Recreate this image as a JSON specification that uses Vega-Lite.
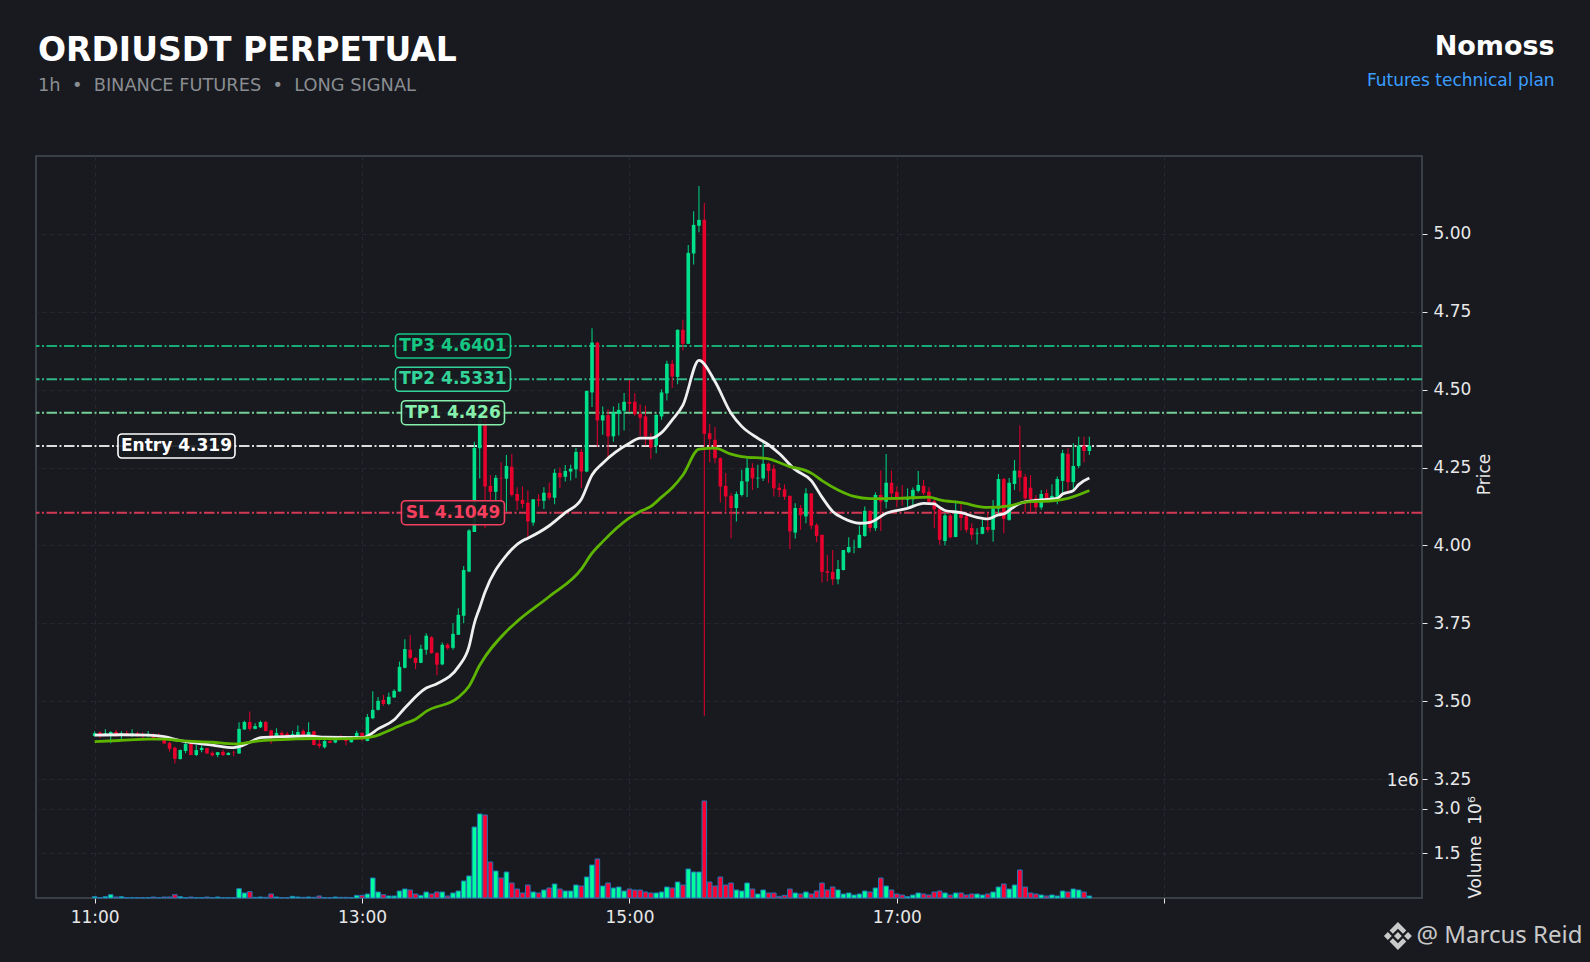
{
"$schema":"https://vega.github.io/schema/vega-lite/v6.json",
"width":1386,"height":742,
"autosize":{"type":"none"},
"padding":{"left":36,"top":156,"right":168,"bottom":64},
"background":"#181a20",
"view":{"stroke":"#3a3f45","strokeWidth":2},
"config":{"font":"DejaVu Sans"},
"title":{"text":"ORDIUSDT PERPETUAL","subtitle":"1h\u00a0\u00a0•\u00a0\u00a0BINANCE FUTURES\u00a0\u00a0•\u00a0\u00a0LONG SIGNAL","anchor":"start","frame":"group","dx":2,"offset":-62,"fontSize":33,"fontWeight":"bold","color":"#ffffff","subtitleFontSize":17.8,"subtitleColor":"#8a8d91","subtitlePadding":9},
"datasets":{
"candles":[
{"i":0,"open":3.388,"high":3.403,"low":3.386,"close":3.397,"volume":45000},
{"i":1,"open":3.399,"high":3.403,"low":3.381,"close":3.394,"volume":11000},
{"i":2,"open":3.394,"high":3.41,"low":3.391,"close":3.397,"volume":45000},
{"i":3,"open":3.394,"high":3.403,"low":3.365,"close":3.401,"volume":112000},
{"i":4,"open":3.401,"high":3.407,"low":3.386,"close":3.394,"volume":34000},
{"i":5,"open":3.393,"high":3.403,"low":3.378,"close":3.397,"volume":45000},
{"i":6,"open":3.397,"high":3.405,"low":3.388,"close":3.394,"volume":11000},
{"i":7,"open":3.395,"high":3.41,"low":3.386,"close":3.397,"volume":11000},
{"i":8,"open":3.397,"high":3.402,"low":3.386,"close":3.394,"volume":11000},
{"i":9,"open":3.394,"high":3.399,"low":3.38,"close":3.388,"volume":11000},
{"i":10,"open":3.389,"high":3.404,"low":3.384,"close":3.394,"volume":11000},
{"i":11,"open":3.391,"high":3.397,"low":3.378,"close":3.381,"volume":34000},
{"i":12,"open":3.391,"high":3.397,"low":3.375,"close":3.384,"volume":11000},
{"i":13,"open":3.375,"high":3.384,"low":3.363,"close":3.364,"volume":34000},
{"i":14,"open":3.366,"high":3.37,"low":3.338,"close":3.347,"volume":34000},
{"i":15,"open":3.35,"high":3.354,"low":3.3,"close":3.315,"volume":112000},
{"i":16,"open":3.314,"high":3.345,"low":3.313,"close":3.343,"volume":45000},
{"i":17,"open":3.34,"high":3.367,"low":3.333,"close":3.363,"volume":11000},
{"i":18,"open":3.363,"high":3.367,"low":3.326,"close":3.327,"volume":34000},
{"i":19,"open":3.327,"high":3.359,"low":3.324,"close":3.343,"volume":11000},
{"i":20,"open":3.343,"high":3.358,"low":3.336,"close":3.35,"volume":11000},
{"i":21,"open":3.349,"high":3.35,"low":3.33,"close":3.332,"volume":34000},
{"i":22,"open":3.334,"high":3.339,"low":3.322,"close":3.326,"volume":11000},
{"i":23,"open":3.327,"high":3.337,"low":3.32,"close":3.336,"volume":34000},
{"i":24,"open":3.337,"high":3.344,"low":3.324,"close":3.327,"volume":11000},
{"i":25,"open":3.327,"high":3.336,"low":3.326,"close":3.334,"volume":11000},
{"i":26,"open":3.335,"high":3.341,"low":3.323,"close":3.334,"volume":11000},
{"i":27,"open":3.332,"high":3.432,"low":3.33,"close":3.411,"volume":315000},
{"i":28,"open":3.409,"high":3.437,"low":3.408,"close":3.433,"volume":169000},
{"i":29,"open":3.433,"high":3.467,"low":3.405,"close":3.411,"volume":213000},
{"i":30,"open":3.411,"high":3.429,"low":3.41,"close":3.42,"volume":22000},
{"i":31,"open":3.416,"high":3.437,"low":3.414,"close":3.433,"volume":34000},
{"i":32,"open":3.433,"high":3.437,"low":3.403,"close":3.404,"volume":22000},
{"i":33,"open":3.406,"high":3.408,"low":3.363,"close":3.386,"volume":135000},
{"i":34,"open":3.386,"high":3.413,"low":3.384,"close":3.398,"volume":34000},
{"i":35,"open":3.398,"high":3.405,"low":3.388,"close":3.391,"volume":11000},
{"i":36,"open":3.395,"high":3.401,"low":3.388,"close":3.389,"volume":11000},
{"i":37,"open":3.386,"high":3.405,"low":3.384,"close":3.394,"volume":56000},
{"i":38,"open":3.386,"high":3.422,"low":3.384,"close":3.401,"volume":34000},
{"i":39,"open":3.404,"high":3.41,"low":3.386,"close":3.39,"volume":22000},
{"i":40,"open":3.39,"high":3.432,"low":3.386,"close":3.401,"volume":34000},
{"i":41,"open":3.403,"high":3.405,"low":3.358,"close":3.359,"volume":22000},
{"i":42,"open":3.363,"high":3.375,"low":3.349,"close":3.356,"volume":67000},
{"i":43,"open":3.352,"high":3.375,"low":3.348,"close":3.372,"volume":11000},
{"i":44,"open":3.372,"high":3.381,"low":3.365,"close":3.366,"volume":11000},
{"i":45,"open":3.367,"high":3.386,"low":3.365,"close":3.379,"volume":34000},
{"i":46,"open":3.381,"high":3.391,"low":3.375,"close":3.379,"volume":22000},
{"i":47,"open":3.379,"high":3.386,"low":3.358,"close":3.372,"volume":22000},
{"i":48,"open":3.368,"high":3.388,"low":3.367,"close":3.386,"volume":11000},
{"i":49,"open":3.383,"high":3.405,"low":3.381,"close":3.398,"volume":90000},
{"i":50,"open":3.398,"high":3.399,"low":3.372,"close":3.384,"volume":90000},
{"i":51,"open":3.372,"high":3.459,"low":3.371,"close":3.449,"volume":135000},
{"i":52,"open":3.445,"high":3.532,"low":3.442,"close":3.472,"volume":674000},
{"i":53,"open":3.472,"high":3.513,"low":3.47,"close":3.501,"volume":202000},
{"i":54,"open":3.504,"high":3.52,"low":3.485,"close":3.491,"volume":112000},
{"i":55,"open":3.491,"high":3.528,"low":3.487,"close":3.514,"volume":67000},
{"i":56,"open":3.512,"high":3.538,"low":3.51,"close":3.533,"volume":67000},
{"i":57,"open":3.531,"high":3.627,"low":3.53,"close":3.61,"volume":236000},
{"i":58,"open":3.607,"high":3.699,"low":3.605,"close":3.667,"volume":303000},
{"i":59,"open":3.665,"high":3.712,"low":3.635,"close":3.639,"volume":270000},
{"i":60,"open":3.639,"high":3.641,"low":3.603,"close":3.623,"volume":135000},
{"i":61,"open":3.623,"high":3.681,"low":3.622,"close":3.668,"volume":90000},
{"i":62,"open":3.665,"high":3.718,"low":3.649,"close":3.71,"volume":202000},
{"i":63,"open":3.705,"high":3.708,"low":3.652,"close":3.654,"volume":135000},
{"i":64,"open":3.654,"high":3.658,"low":3.583,"close":3.617,"volume":202000},
{"i":65,"open":3.618,"high":3.688,"low":3.615,"close":3.681,"volume":202000},
{"i":66,"open":3.681,"high":3.686,"low":3.665,"close":3.67,"volume":67000},
{"i":67,"open":3.671,"high":3.75,"low":3.665,"close":3.716,"volume":169000},
{"i":68,"open":3.713,"high":3.798,"low":3.712,"close":3.777,"volume":236000},
{"i":69,"open":3.774,"high":3.934,"low":3.75,"close":3.921,"volume":573000},
{"i":70,"open":3.916,"high":4.052,"low":3.914,"close":4.048,"volume":742000},
{"i":71,"open":4.043,"high":4.333,"low":4.043,"close":4.313,"volume":2393000},
{"i":72,"open":4.312,"high":4.446,"low":4.215,"close":4.424,"volume":2831000},
{"i":73,"open":4.424,"high":4.435,"low":4.055,"close":4.189,"volume":2798000},
{"i":74,"open":4.191,"high":4.226,"low":4.135,"close":4.172,"volume":1213000},
{"i":75,"open":4.172,"high":4.226,"low":4.141,"close":4.217,"volume":910000},
{"i":76,"open":4.217,"high":4.267,"low":4.135,"close":4.215,"volume":674000},
{"i":77,"open":4.214,"high":4.29,"low":4.109,"close":4.255,"volume":876000},
{"i":78,"open":4.252,"high":4.293,"low":4.157,"close":4.162,"volume":506000},
{"i":79,"open":4.165,"high":4.187,"low":4.112,"close":4.143,"volume":303000},
{"i":80,"open":4.146,"high":4.189,"low":4.119,"close":4.133,"volume":169000},
{"i":81,"open":4.137,"high":4.176,"low":4.023,"close":4.077,"volume":438000},
{"i":82,"open":4.073,"high":4.148,"low":4.063,"close":4.148,"volume":202000},
{"i":83,"open":4.148,"high":4.165,"low":4.125,"close":4.144,"volume":169000},
{"i":84,"open":4.143,"high":4.187,"low":4.117,"close":4.169,"volume":270000},
{"i":85,"open":4.169,"high":4.202,"low":4.146,"close":4.153,"volume":337000},
{"i":86,"open":4.153,"high":4.245,"low":4.132,"close":4.233,"volume":472000},
{"i":87,"open":4.233,"high":4.25,"low":4.184,"close":4.218,"volume":303000},
{"i":88,"open":4.22,"high":4.258,"low":4.205,"close":4.239,"volume":236000},
{"i":89,"open":4.237,"high":4.259,"low":4.208,"close":4.246,"volume":236000},
{"i":90,"open":4.244,"high":4.313,"low":4.216,"close":4.3,"volume":438000},
{"i":91,"open":4.3,"high":4.309,"low":4.184,"close":4.237,"volume":404000},
{"i":92,"open":4.237,"high":4.496,"low":4.235,"close":4.496,"volume":708000},
{"i":93,"open":4.491,"high":4.697,"low":4.444,"close":4.651,"volume":1112000},
{"i":94,"open":4.651,"high":4.654,"low":4.317,"close":4.401,"volume":1315000},
{"i":95,"open":4.401,"high":4.446,"low":4.355,"close":4.418,"volume":404000},
{"i":96,"open":4.418,"high":4.437,"low":4.277,"close":4.35,"volume":506000},
{"i":97,"open":4.35,"high":4.446,"low":4.333,"close":4.427,"volume":337000},
{"i":98,"open":4.422,"high":4.456,"low":4.353,"close":4.435,"volume":371000},
{"i":99,"open":4.432,"high":4.489,"low":4.369,"close":4.461,"volume":236000},
{"i":100,"open":4.461,"high":4.531,"low":4.428,"close":4.455,"volume":303000},
{"i":101,"open":4.461,"high":4.489,"low":4.416,"close":4.421,"volume":270000},
{"i":102,"open":4.422,"high":4.453,"low":4.352,"close":4.41,"volume":270000},
{"i":103,"open":4.414,"high":4.449,"low":4.321,"close":4.35,"volume":202000},
{"i":104,"open":4.344,"high":4.36,"low":4.277,"close":4.314,"volume":169000},
{"i":105,"open":4.32,"high":4.421,"low":4.296,"close":4.419,"volume":169000},
{"i":106,"open":4.414,"high":4.501,"low":4.403,"close":4.491,"volume":202000},
{"i":107,"open":4.488,"high":4.593,"low":4.465,"close":4.583,"volume":371000},
{"i":108,"open":4.583,"high":4.596,"low":4.505,"close":4.542,"volume":337000},
{"i":109,"open":4.541,"high":4.694,"low":4.517,"close":4.692,"volume":539000},
{"i":110,"open":4.692,"high":4.724,"low":4.626,"close":4.647,"volume":438000},
{"i":111,"open":4.647,"high":4.964,"low":4.647,"close":4.939,"volume":978000},
{"i":112,"open":4.937,"high":5.073,"low":4.902,"close":5.029,"volume":876000},
{"i":113,"open":5.026,"high":5.154,"low":5.005,"close":5.045,"volume":876000},
{"i":114,"open":5.045,"high":5.099,"low":3.453,"close":4.358,"volume":3270000},
{"i":115,"open":4.36,"high":4.389,"low":4.266,"close":4.341,"volume":539000},
{"i":116,"open":4.339,"high":4.38,"low":4.264,"close":4.28,"volume":404000},
{"i":117,"open":4.28,"high":4.283,"low":4.138,"close":4.189,"volume":708000},
{"i":118,"open":4.191,"high":4.232,"low":4.109,"close":4.157,"volume":438000},
{"i":119,"open":4.159,"high":4.168,"low":4.023,"close":4.12,"volume":506000},
{"i":120,"open":4.12,"high":4.173,"low":4.077,"close":4.165,"volume":270000},
{"i":121,"open":4.162,"high":4.243,"low":4.157,"close":4.206,"volume":236000},
{"i":122,"open":4.205,"high":4.28,"low":4.155,"close":4.249,"volume":506000},
{"i":123,"open":4.249,"high":4.264,"low":4.178,"close":4.215,"volume":303000},
{"i":124,"open":4.215,"high":4.259,"low":4.184,"close":4.217,"volume":135000},
{"i":125,"open":4.215,"high":4.33,"low":4.207,"close":4.262,"volume":270000},
{"i":126,"open":4.262,"high":4.266,"low":4.2,"close":4.239,"volume":169000},
{"i":127,"open":4.246,"high":4.259,"low":4.157,"close":4.183,"volume":169000},
{"i":128,"open":4.185,"high":4.2,"low":4.155,"close":4.178,"volume":56000},
{"i":129,"open":4.18,"high":4.196,"low":4.146,"close":4.156,"volume":90000},
{"i":130,"open":4.159,"high":4.159,"low":3.988,"close":4.045,"volume":303000},
{"i":131,"open":4.041,"high":4.135,"low":4.022,"close":4.12,"volume":169000},
{"i":132,"open":4.12,"high":4.13,"low":4.05,"close":4.097,"volume":135000},
{"i":133,"open":4.093,"high":4.183,"low":4.071,"close":4.167,"volume":202000},
{"i":134,"open":4.167,"high":4.167,"low":4.052,"close":4.063,"volume":135000},
{"i":135,"open":4.065,"high":4.071,"low":4.01,"close":4.03,"volume":236000},
{"i":136,"open":4.034,"high":4.034,"low":3.881,"close":3.915,"volume":506000},
{"i":137,"open":3.917,"high":3.969,"low":3.884,"close":3.912,"volume":270000},
{"i":138,"open":3.915,"high":3.985,"low":3.873,"close":3.891,"volume":371000},
{"i":139,"open":3.891,"high":3.953,"low":3.875,"close":3.924,"volume":270000},
{"i":140,"open":3.921,"high":3.985,"low":3.919,"close":3.985,"volume":135000},
{"i":141,"open":3.978,"high":4.026,"low":3.975,"close":3.995,"volume":169000},
{"i":142,"open":3.994,"high":4.018,"low":3.975,"close":3.995,"volume":101000},
{"i":143,"open":3.992,"high":4.063,"low":3.991,"close":4.034,"volume":135000},
{"i":144,"open":4.03,"high":4.125,"low":4.028,"close":4.111,"volume":236000},
{"i":145,"open":4.111,"high":4.111,"low":4.044,"close":4.056,"volume":202000},
{"i":146,"open":4.055,"high":4.17,"low":4.046,"close":4.162,"volume":337000},
{"i":147,"open":4.162,"high":4.24,"low":4.046,"close":4.141,"volume":674000},
{"i":148,"open":4.14,"high":4.293,"low":4.118,"close":4.201,"volume":404000},
{"i":149,"open":4.201,"high":4.24,"low":4.146,"close":4.167,"volume":270000},
{"i":150,"open":4.172,"high":4.189,"low":4.122,"close":4.146,"volume":135000},
{"i":151,"open":4.155,"high":4.193,"low":4.127,"close":4.148,"volume":101000},
{"i":152,"open":4.146,"high":4.183,"low":4.122,"close":4.155,"volume":45000},
{"i":153,"open":4.148,"high":4.186,"low":4.13,"close":4.178,"volume":101000},
{"i":154,"open":4.175,"high":4.239,"low":4.17,"close":4.194,"volume":169000},
{"i":155,"open":4.191,"high":4.21,"low":4.162,"close":4.168,"volume":135000},
{"i":156,"open":4.172,"high":4.187,"low":4.135,"close":4.14,"volume":101000},
{"i":157,"open":4.142,"high":4.146,"low":4.055,"close":4.116,"volume":202000},
{"i":158,"open":4.116,"high":4.118,"low":4.002,"close":4.018,"volume":236000},
{"i":159,"open":4.014,"high":4.103,"low":4,"close":4.096,"volume":169000},
{"i":160,"open":4.096,"high":4.103,"low":4.023,"close":4.026,"volume":101000},
{"i":161,"open":4.027,"high":4.144,"low":4.026,"close":4.103,"volume":169000},
{"i":162,"open":4.103,"high":4.135,"low":4.048,"close":4.088,"volume":169000},
{"i":163,"open":4.093,"high":4.103,"low":4.041,"close":4.05,"volume":101000},
{"i":164,"open":4.056,"high":4.071,"low":4.018,"close":4.034,"volume":135000},
{"i":165,"open":4.038,"high":4.055,"low":4.003,"close":4.04,"volume":135000},
{"i":166,"open":4.037,"high":4.084,"low":4.036,"close":4.059,"volume":101000},
{"i":167,"open":4.059,"high":4.105,"low":4.042,"close":4.05,"volume":135000},
{"i":168,"open":4.05,"high":4.146,"low":4.012,"close":4.119,"volume":202000},
{"i":169,"open":4.117,"high":4.229,"low":4.103,"close":4.213,"volume":371000},
{"i":170,"open":4.213,"high":4.217,"low":4.039,"close":4.085,"volume":472000},
{"i":171,"open":4.082,"high":4.216,"low":4.079,"close":4.201,"volume":303000},
{"i":172,"open":4.197,"high":4.274,"low":4.178,"close":4.24,"volume":438000},
{"i":173,"open":4.24,"high":4.385,"low":4.173,"close":4.218,"volume":944000},
{"i":174,"open":4.22,"high":4.229,"low":4.106,"close":4.151,"volume":371000},
{"i":175,"open":4.185,"high":4.225,"low":4.109,"close":4.149,"volume":169000},
{"i":176,"open":4.151,"high":4.162,"low":4.109,"close":4.122,"volume":135000},
{"i":177,"open":4.122,"high":4.178,"low":4.114,"close":4.165,"volume":101000},
{"i":178,"open":4.168,"high":4.18,"low":4.141,"close":4.151,"volume":67000},
{"i":179,"open":4.15,"high":4.196,"low":4.141,"close":4.159,"volume":101000},
{"i":180,"open":4.15,"high":4.221,"low":4.132,"close":4.213,"volume":67000},
{"i":181,"open":4.207,"high":4.307,"low":4.167,"close":4.296,"volume":236000},
{"i":182,"open":4.294,"high":4.312,"low":4.167,"close":4.203,"volume":202000},
{"i":183,"open":4.203,"high":4.328,"low":4.178,"close":4.255,"volume":303000},
{"i":184,"open":4.255,"high":4.349,"low":4.248,"close":4.32,"volume":270000},
{"i":185,"open":4.32,"high":4.349,"low":4.266,"close":4.303,"volume":202000},
{"i":186,"open":4.303,"high":4.349,"low":4.29,"close":4.32,"volume":67000}
],
"ema":[
{"series":"fast","i":0,"value":3.391},{"series":"fast","i":5,"value":3.392},{"series":"fast","i":10,"value":3.391},{"series":"fast","i":13,"value":3.386},{"series":"fast","i":16,"value":3.373},{"series":"fast","i":22,"value":3.359},{"series":"fast","i":26,"value":3.351},{"series":"fast","i":27,"value":3.354},{"series":"fast","i":29,"value":3.368},{"series":"fast","i":31,"value":3.383},{"series":"fast","i":35,"value":3.386},{"series":"fast","i":40,"value":3.388},{"series":"fast","i":43,"value":3.384},{"series":"fast","i":50,"value":3.383},{"series":"fast","i":51,"value":3.388},{"series":"fast","i":53,"value":3.411},{"series":"fast","i":56,"value":3.44},{"series":"fast","i":58,"value":3.478},{"series":"fast","i":62,"value":3.542},{"series":"fast","i":64,"value":3.556},{"series":"fast","i":68,"value":3.61},{"series":"fast","i":70,"value":3.675},{"series":"fast","i":71,"value":3.75},{"series":"fast","i":72,"value":3.8},{"series":"fast","i":73,"value":3.85},{"series":"fast","i":77,"value":3.968},{"series":"fast","i":80,"value":4.015},{"series":"fast","i":81,"value":4.023},{"series":"fast","i":85,"value":4.063},{"series":"fast","i":88,"value":4.105},{"series":"fast","i":91,"value":4.148},{"series":"fast","i":93,"value":4.226},{"series":"fast","i":95,"value":4.264},{"series":"fast","i":100,"value":4.328},{"series":"fast","i":102,"value":4.344},{"series":"fast","i":104,"value":4.344},{"series":"fast","i":106,"value":4.362},{"series":"fast","i":108,"value":4.403},{"series":"fast","i":110,"value":4.45},{"series":"fast","i":113,"value":4.594},{"series":"fast","i":116,"value":4.526},{"series":"fast","i":119,"value":4.424},{"series":"fast","i":121,"value":4.382},{"series":"fast","i":124,"value":4.344},{"series":"fast","i":126,"value":4.323},{"series":"fast","i":128,"value":4.295},{"series":"fast","i":131,"value":4.243},{"series":"fast","i":134,"value":4.208},{"series":"fast","i":136,"value":4.155},{"series":"fast","i":138,"value":4.109},{"series":"fast","i":140,"value":4.087},{"series":"fast","i":143,"value":4.071},{"series":"fast","i":145,"value":4.074},{"series":"fast","i":148,"value":4.103},{"series":"fast","i":152,"value":4.119},{"series":"fast","i":155,"value":4.135},{"series":"fast","i":157,"value":4.133},{"series":"fast","i":158,"value":4.122},{"series":"fast","i":159,"value":4.112},{"series":"fast","i":162,"value":4.105},{"series":"fast","i":165,"value":4.09},{"series":"fast","i":167,"value":4.085},{"series":"fast","i":169,"value":4.098},{"series":"fast","i":170,"value":4.101},{"series":"fast","i":172,"value":4.125},{"series":"fast","i":173,"value":4.135},{"series":"fast","i":177,"value":4.146},{"series":"fast","i":180,"value":4.151},{"series":"fast","i":181,"value":4.165},{"series":"fast","i":183,"value":4.176},{"series":"fast","i":184,"value":4.195},{"series":"fast","i":186,"value":4.216},
{"series":"slow","i":0,"value":3.37},{"series":"slow","i":5,"value":3.374},{"series":"slow","i":10,"value":3.378},{"series":"slow","i":13,"value":3.378},{"series":"slow","i":16,"value":3.373},{"series":"slow","i":22,"value":3.368},{"series":"slow","i":26,"value":3.363},{"series":"slow","i":27,"value":3.363},{"series":"slow","i":30,"value":3.371},{"series":"slow","i":32,"value":3.374},{"series":"slow","i":37,"value":3.378},{"series":"slow","i":41,"value":3.38},{"series":"slow","i":45,"value":3.379},{"series":"slow","i":50,"value":3.381},{"series":"slow","i":52,"value":3.386},{"series":"slow","i":53,"value":3.391},{"series":"slow","i":56,"value":3.413},{"series":"slow","i":58,"value":3.428},{"series":"slow","i":60,"value":3.442},{"series":"slow","i":62,"value":3.467},{"series":"slow","i":68,"value":3.512},{"series":"slow","i":70,"value":3.548},{"series":"slow","i":72,"value":3.615},{"series":"slow","i":77,"value":3.724},{"series":"slow","i":79,"value":3.756},{"series":"slow","i":85,"value":3.836},{"series":"slow","i":91,"value":3.924},{"series":"slow","i":93,"value":3.975},{"series":"slow","i":95,"value":4.012},{"series":"slow","i":100,"value":4.088},{"series":"slow","i":102,"value":4.109},{"series":"slow","i":104,"value":4.125},{"series":"slow","i":106,"value":4.155},{"series":"slow","i":108,"value":4.185},{"series":"slow","i":110,"value":4.226},{"series":"slow","i":113,"value":4.309},{"series":"slow","i":116,"value":4.312},{"series":"slow","i":119,"value":4.293},{"series":"slow","i":121,"value":4.285},{"series":"slow","i":126,"value":4.278},{"series":"slow","i":128,"value":4.266},{"series":"slow","i":130,"value":4.253},{"series":"slow","i":133,"value":4.24},{"series":"slow","i":134,"value":4.232},{"series":"slow","i":136,"value":4.208},{"series":"slow","i":139,"value":4.178},{"series":"slow","i":142,"value":4.157},{"series":"slow","i":145,"value":4.15},{"series":"slow","i":150,"value":4.151},{"series":"slow","i":156,"value":4.155},{"series":"slow","i":158,"value":4.146},{"series":"slow","i":162,"value":4.137},{"series":"slow","i":167,"value":4.122},{"series":"slow","i":171,"value":4.127},{"series":"slow","i":174,"value":4.139},{"series":"slow","i":179,"value":4.143},{"series":"slow","i":182,"value":4.151},{"series":"slow","i":186,"value":4.176}
],
"levels":[
{"level":"TP3","price":4.6401,"label":"TP3 4.6401"},
{"level":"TP2","price":4.5331,"label":"TP2 4.5331"},
{"level":"TP1","price":4.426,"label":"TP1 4.426"},
{"level":"Entry","price":4.319,"label":"Entry 4.319"},
{"level":"SL","price":4.1049,"label":"SL 4.1049"}
]
},
"resolve":{"scale":{"y":"independent"}},
"layer":[
{"layer":[
{"data":{"name":"candles"},
 "mark":{"type":"bar","width":4.6,"stroke":"#1f77b4","strokeWidth":1},
 "encoding":{
  "x":{"field":"i","type":"quantitative","scale":{"domain":[-10.97,248.2],"nice":false,"zero":false,"padding":0},
   "axis":{"values":[0,50,100,150,200],"labelExpr":"datum.value==0?'11:00':datum.value==50?'13:00':datum.value==100?'15:00':datum.value==150?'17:00':''","title":null,"grid":true,"gridColor":"#26292f","gridDash":[4,4],"gridWidth":1,"domain":false,"tickColor":"#e8e8e8","tickSize":5,"labelColor":"#e8e8e8","labelFontSize":17,"labelPadding":6,"labelFlush":false}},
  "y":{"field":"volume","type":"quantitative","scale":{"domain":[0,25000000],"nice":false,"zero":true},
   "axis":{"orient":"right","values":[1500000,3000000],"labelExpr":"format(datum.value/1000000,'.1f')","title":"Volume\u00a0\u00a010⁶","titleAngle":-90,"titleX":53,"titleY":691,"titleAlign":"center","titleBaseline":"middle","titleFontSize":17,"titleFontWeight":"normal","titleColor":"#e8e8e8","grid":true,"gridColor":"#26292f","gridDash":[4,4],"gridWidth":1,"domain":false,"tickColor":"#e8e8e8","tickSize":5,"labelColor":"#e8e8e8","labelFontSize":17,"labelPadding":6}},
  "color":{"condition":{"test":"datum.close >= datum.open","value":"#00ff9d"},"value":"#ff0033"}
 }}
]},
{"layer":[
{"data":{"name":"levels"},
 "mark":{"type":"rule","strokeDash":[10.5,2.5,2,2.5],"strokeWidth":2,"opacity":0.85},
 "encoding":{
  "y":{"field":"price","type":"quantitative","scale":{"domain":[2.868,5.25],"nice":false,"zero":false},
   "axis":{"orient":"right","values":[3.25,3.5,3.75,4,4.25,4.5,4.75,5],"format":".2f","title":"Price","titleAngle":-90,"titleX":62,"titleY":318,"titleAlign":"center","titleBaseline":"middle","titleFontSize":17,"titleFontWeight":"normal","titleColor":"#e8e8e8","grid":true,"gridColor":"#26292f","gridDash":[4,4],"gridWidth":1,"domain":false,"tickColor":"#e8e8e8","tickSize":5,"labelColor":"#e8e8e8","labelFontSize":17,"labelPadding":6}},
  "color":{"field":"level","type":"nominal","legend":null,"scale":{"domain":["TP3","TP2","TP1","Entry","SL"],"range":["#16c784","#34d399","#86efac","#ffffff","#f43f5e"]}}
 }},
{"data":{"name":"candles"},
 "mark":{"type":"rule","strokeWidth":1.1},
 "encoding":{
  "x":{"field":"i","type":"quantitative","title":null},
  "y":{"field":"low","type":"quantitative"},
  "y2":{"field":"high"},
  "color":{"condition":{"test":"datum.close >= datum.open","value":"#00c97a"},"value":"#d4002a"}
 }},
{"data":{"name":"candles"},
 "mark":{"type":"bar","width":3.6},
 "encoding":{
  "x":{"field":"i","type":"quantitative","title":null},
  "y":{"field":"open","type":"quantitative"},
  "y2":{"field":"close"},
  "color":{"condition":{"test":"datum.close >= datum.open","value":"#00e08a"},"value":"#e8002d"}
 }},
{"data":{"name":"ema"},
 "transform":[{"filter":"datum.series == 'fast'"}],
 "mark":{"type":"line","color":"#f0f0f0","strokeWidth":2.8,"interpolate":"monotone"},
 "encoding":{
  "x":{"field":"i","type":"quantitative","title":null},
  "y":{"field":"value","type":"quantitative"}
 }},
{"data":{"name":"ema"},
 "transform":[{"filter":"datum.series == 'slow'"}],
 "mark":{"type":"line","color":"#5db500","strokeWidth":2.8,"interpolate":"monotone"},
 "encoding":{
  "x":{"field":"i","type":"quantitative","title":null},
  "y":{"field":"value","type":"quantitative"}
 }},
{"data":{"name":"levels"},
 "transform":[{"filter":"datum.level == 'TP3' || datum.level == 'TP2'"}],
 "mark":{"type":"rect","width":115,"height":24,"cornerRadius":4,"fill":"#181a20","fillOpacity":0.92,"strokeWidth":1.6},
 "encoding":{
  "x":{"datum":67,"type":"quantitative","title":null},
  "y":{"field":"price","type":"quantitative"},
  "stroke":{"field":"level","type":"nominal","legend":null,"scale":{"domain":["TP3","TP2","TP1","Entry","SL"],"range":["#16c784","#34d399","#86efac","#ffffff","#f43f5e"]}}
 }},
{"data":{"name":"levels"},
 "transform":[{"filter":"datum.level == 'TP1' || datum.level == 'SL'"}],
 "mark":{"type":"rect","width":103,"height":24,"cornerRadius":4,"fill":"#181a20","fillOpacity":0.92,"strokeWidth":1.6},
 "encoding":{
  "x":{"datum":67,"type":"quantitative","title":null},
  "y":{"field":"price","type":"quantitative"},
  "stroke":{"field":"level","type":"nominal","legend":null}
 }},
{"data":{"name":"levels"},
 "transform":[{"filter":"datum.level == 'Entry'"}],
 "mark":{"type":"rect","width":117,"height":24,"cornerRadius":4,"fill":"#181a20","fillOpacity":0.92,"strokeWidth":1.6},
 "encoding":{
  "x":{"datum":15.3,"type":"quantitative","title":null},
  "y":{"field":"price","type":"quantitative"},
  "stroke":{"field":"level","type":"nominal","legend":null}
 }},
{"data":{"name":"levels"},
 "transform":[{"filter":"datum.level != 'Entry'"}],
 "mark":{"type":"text","fontSize":17,"fontWeight":"bold","align":"center","baseline":"middle"},
 "encoding":{
  "x":{"datum":67,"type":"quantitative","title":null},
  "y":{"field":"price","type":"quantitative"},
  "text":{"field":"label"},
  "color":{"field":"level","type":"nominal","legend":null}
 }},
{"data":{"name":"levels"},
 "transform":[{"filter":"datum.level == 'Entry'"}],
 "mark":{"type":"text","fontSize":17,"fontWeight":"bold","align":"center","baseline":"middle"},
 "encoding":{
  "x":{"datum":15.3,"type":"quantitative","title":null},
  "y":{"field":"price","type":"quantitative"},
  "text":{"field":"label"},
  "color":{"field":"level","type":"nominal","legend":null}
 }},
{"data":{"values":[{"text":"1e6"}]},
 "mark":{"type":"text","fontSize":17,"align":"right","baseline":"middle","color":"#e8e8e8"},
 "encoding":{"x":{"datum":247.6,"type":"quantitative","title":null},"y":{"datum":3.244,"type":"quantitative"},"text":{"field":"text"}}},
{"data":{"values":[{"text":"Nomoss"}]},
 "mark":{"type":"text","fontSize":27,"fontWeight":"bold","align":"right","baseline":"middle","color":"#ffffff"},
 "encoding":{"x":{"datum":273,"type":"quantitative","title":null},"y":{"datum":5.6,"type":"quantitative"},"text":{"field":"text"}}},
{"data":{"values":[{"text":"Futures technical plan"}]},
 "mark":{"type":"text","fontSize":17,"align":"right","baseline":"middle","color":"#3b9eff"},
 "encoding":{"x":{"datum":273,"type":"quantitative","title":null},"y":{"datum":5.491,"type":"quantitative"},"text":{"field":"text"}}},
{"data":{"values":[{"text":"@ Marcus Reid"}]},
 "mark":{"type":"text","font":"Noto Sans","fontSize":24,"align":"right","baseline":"middle","color":"#c9c9c9"},
 "encoding":{"x":{"datum":278.2,"type":"quantitative","title":null},"y":{"datum":2.746,"type":"quantitative"},"text":{"field":"text"}}},
{"data":{"values":[{"text":"logo"}]},
 "mark":{"type":"point","filled":true,"opacity":1,"color":"#c9c9c9","size":784,"shape":"M0,-0.28L0.28,0L0,0.28L-0.28,0ZM-1,0L-0.72,-0.28L-0.44,0L-0.72,0.28ZM1,0L0.72,-0.28L0.44,0L0.72,0.28ZM0,-1L0.6,-0.4L0.36,-0.16L0,-0.52L-0.36,-0.16L-0.6,-0.4ZM0,1L0.6,0.4L0.36,0.16L0,0.52L-0.36,0.16L-0.6,0.4Z"},
 "encoding":{"x":{"datum":243.7,"type":"quantitative","title":null},"y":{"datum":2.746,"type":"quantitative"}}}
]}
]
}
